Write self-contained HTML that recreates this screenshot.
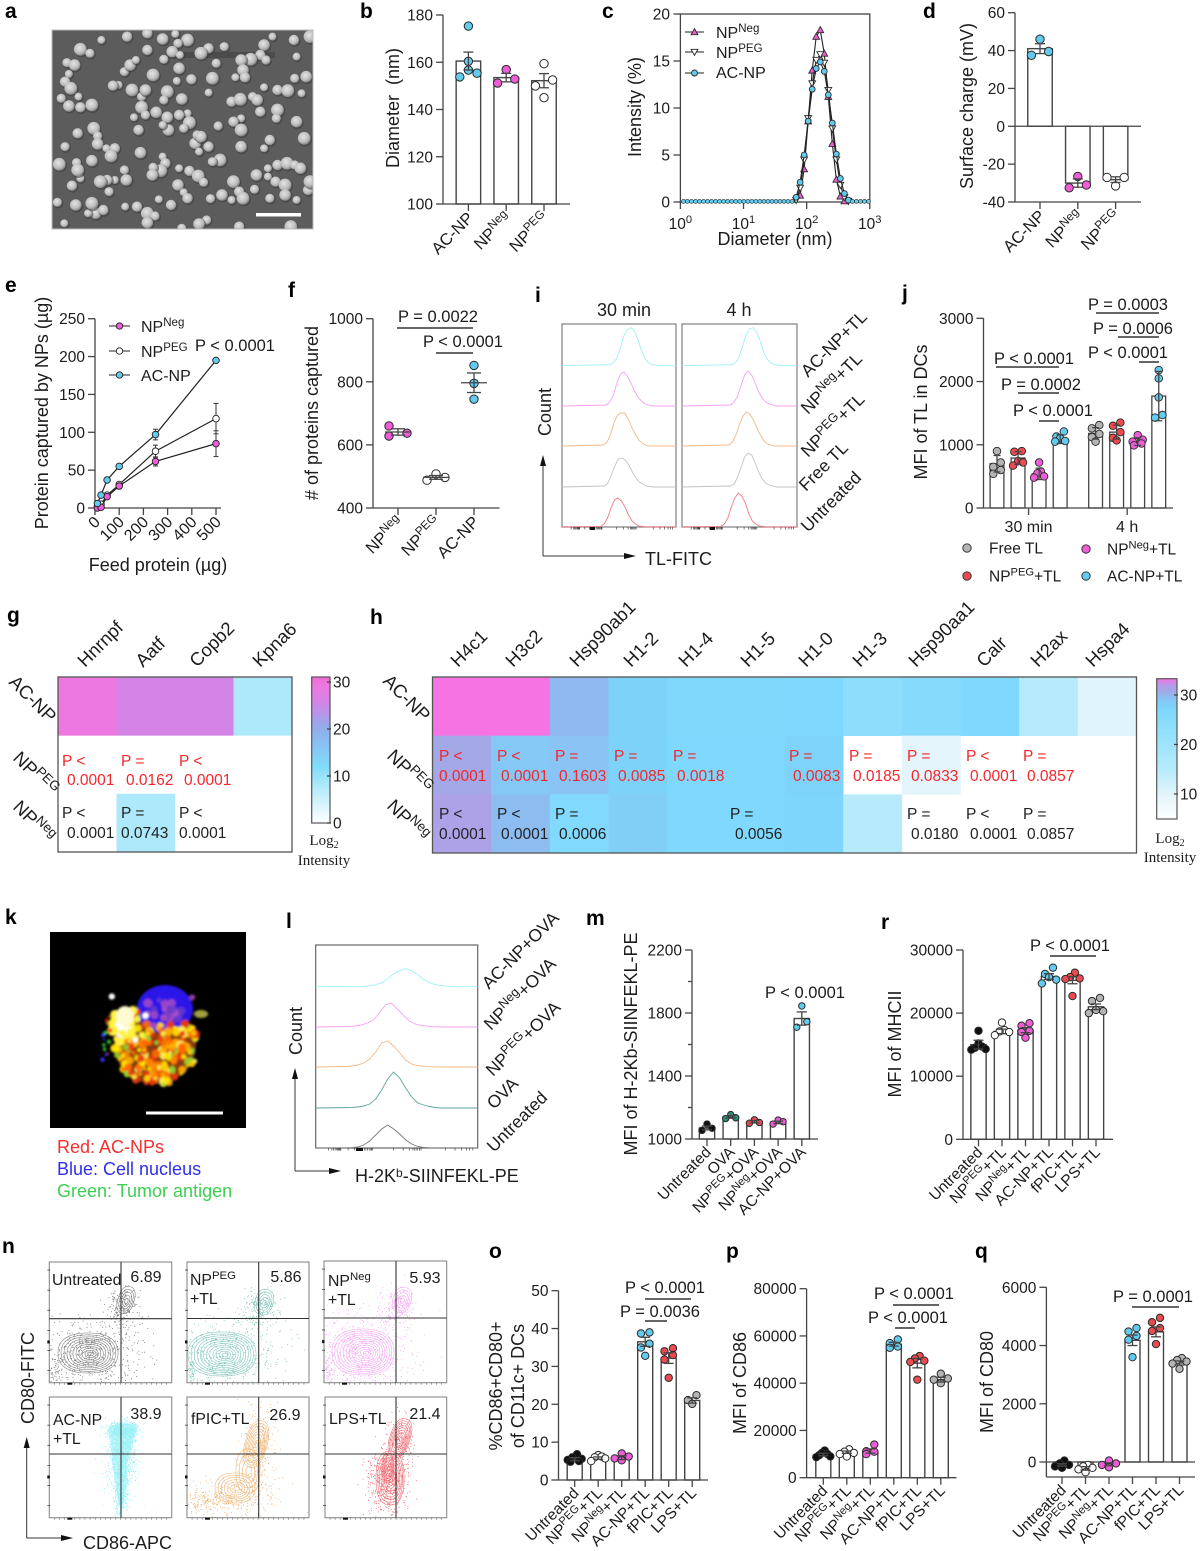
<!DOCTYPE html>
<html lang="en">
<head>
<meta charset="utf-8">
<title>Nanoparticle characterisation figure</title>
<style>
html,body{margin:0;padding:0;background:#fff;}
svg{display:block;}
text{font-family:"Liberation Sans",sans-serif;fill:#1c1c1c;}
.L{font-weight:bold;font-size:21px;fill:#000;}
.T{font-size:18px;}
.P{font-size:16.5px;}
.r{fill:#f5262c;font-size:15.5px;}
.k{fill:#222;font-size:15.5px;}
.s{font-family:"Liberation Serif",serif;font-size:15px;}
.sig{stroke:#333;stroke-width:1.5;}
</style>
</head>
<body>
<svg id="fig" xmlns="http://www.w3.org/2000/svg" width="1200" height="1551" viewBox="0 0 1200 1551">
<rect x="0" y="0" width="1200" height="1551" fill="#fff"/>
<g id="marks"></g>

<g>
<text class="L" x="5" y="18">a</text>
<text class="L" x="360" y="18">b</text>
<text class="L" x="602" y="18">c</text>
<text class="L" x="923" y="18">d</text>
<text class="L" x="5" y="292">e</text>
<text class="L" x="288" y="297">f</text>
<text class="L" x="535" y="302">i</text>
<text class="L" x="902" y="300">j</text>
<text class="L" x="7" y="622">g</text>
<text class="L" x="370" y="624">h</text>
<text class="L" x="5" y="924">k</text>
<text class="L" x="286" y="928">l</text>
<text class="L" x="586" y="925">m</text>
<text class="L" x="881" y="929">r</text>
<text class="L" x="2" y="1253">n</text>
<text class="L" x="489" y="1258">o</text>
<text class="L" x="726" y="1258">p</text>
<text class="L" x="975" y="1258">q</text>
</g>

<g>
<text class="T" transform="translate(399 108) rotate(-90)" text-anchor="middle">Diameter&#160;&#160;(nm)</text>
<text class="T" transform="translate(641 107) rotate(-90)" text-anchor="middle">Intensity (%)</text>
<text class="T" x="775" y="245" text-anchor="middle">Diameter (nm)</text>
<text class="T" transform="translate(973 106) rotate(-90)" text-anchor="middle">Surface charge (mV)</text>
<text class="T" transform="translate(48 413) rotate(-90)" text-anchor="middle">Protein captured by NPs (µg)</text>
<text class="T" x="158" y="571" text-anchor="middle">Feed protein (µg)</text>
<text class="T" transform="translate(318 413) rotate(-90)" text-anchor="middle"># of proteins captured</text>
<text class="T" transform="translate(551 412) rotate(-90)" text-anchor="middle">Count</text>
<text class="T" x="645" y="565">TL-FITC</text>
<text class="T" x="624" y="316" text-anchor="middle">30 min</text>
<text class="T" x="739" y="316" text-anchor="middle">4 h</text>
<text class="T" transform="translate(927 412) rotate(-90)" text-anchor="middle">MFI of TL in DCs</text>
<text class="T" transform="translate(302 1031) rotate(-90)" text-anchor="middle">Count</text>
<text class="T" x="355" y="1182">H-2K<tspan dy="-5" font-size="12">b</tspan><tspan dy="5">-SIINFEKL-PE</tspan></text>
<text class="T" transform="translate(637 1044) rotate(-90)" text-anchor="middle">MFI of H-2Kb-SIINFEKL-PE</text>
<text class="T" transform="translate(901 1044) rotate(-90)" text-anchor="middle">MFI of MHCII</text>
<text class="T" transform="translate(34 1378) rotate(-90)" text-anchor="middle">CD80-FITC</text>
<text class="T" x="83" y="1549">CD86-APC</text>
<text class="T" transform="translate(502 1386) rotate(-90)" text-anchor="middle">%CD86+CD80+</text>
<text class="T" transform="translate(524 1386) rotate(-90)" text-anchor="middle">of CD11c+ DCs</text>
<text class="T" transform="translate(746 1383) rotate(-90)" text-anchor="middle">MFI of CD86</text>
<text class="T" transform="translate(993 1382) rotate(-90)" text-anchor="middle">MFI of CD80</text>
</g>

<g>
<text class="P" x="195" y="351">P &lt; 0.0001</text>
<text class="P" x="398" y="322">P = 0.0022</text>
<line class="sig" x1="397" x2="473" y1="328" y2="328"/>
<text class="P" x="423" y="347">P &lt; 0.0001</text>
<line class="sig" x1="436" x2="473" y1="353" y2="353"/>
<text class="P" x="994" y="364">P &lt; 0.0001</text>
<line class="sig" x1="996" x2="1059" y1="367" y2="367"/>
<text class="P" x="1001" y="390">P = 0.0002</text>
<line class="sig" x1="1018" x2="1059" y1="393" y2="393"/>
<text class="P" x="1013" y="416">P &lt; 0.0001</text>
<line class="sig" x1="1039" x2="1059" y1="421" y2="421"/>
<text class="P" x="1088" y="310">P = 0.0003</text>
<line class="sig" x1="1096" x2="1159" y1="313" y2="313"/>
<text class="P" x="1093" y="334">P = 0.0006</text>
<line class="sig" x1="1118" x2="1159" y1="337" y2="337"/>
<text class="P" x="1088" y="358">P &lt; 0.0001</text>
<line class="sig" x1="1139" x2="1159" y1="362" y2="362"/>
<text class="P" x="765" y="998">P &lt; 0.0001</text>
<text class="P" x="1030" y="951">P &lt; 0.0001</text>
<line class="sig" x1="1050" x2="1096" y1="956" y2="956"/>
<text class="P" x="625" y="1293">P &lt; 0.0001</text>
<line class="sig" x1="645" x2="691" y1="1299" y2="1299"/>
<text class="P" x="620" y="1317">P = 0.0036</text>
<line class="sig" x1="645" x2="667" y1="1321" y2="1321"/>
<text class="P" x="874" y="1299">P &lt; 0.0001</text>
<line class="sig" x1="893" x2="939" y1="1305" y2="1305"/>
<text class="P" x="868" y="1323">P &lt; 0.0001</text>
<line class="sig" x1="895" x2="915" y1="1328" y2="1328"/>
<text class="P" x="1113" y="1302">P = 0.0001</text>
<line class="sig" x1="1132" x2="1179" y1="1307" y2="1307"/>
</g>

<g id="heat-text">
<text class="s" x="324" y="845" text-anchor="middle">Log<tspan dy="3" font-size="10">2</tspan></text>
<text class="s" x="324" y="865" text-anchor="middle">Intensity</text>
<text class="s" x="1170" y="843" text-anchor="middle">Log<tspan dy="3" font-size="10">2</tspan></text>
<text class="s" x="1170" y="862" text-anchor="middle">Intensity</text>

<g>
<text class="r" x="62" y="766">P &lt;</text><text class="r" x="67" y="785">0.0001</text>
<text class="r" x="121" y="766">P =</text><text class="r" x="126" y="785">0.0162</text>
<text class="r" x="179" y="766">P &lt;</text><text class="r" x="184" y="785">0.0001</text>
</g>
<g>
<text class="k" x="62" y="818">P &lt;</text><text class="k" x="67" y="838">0.0001</text>
<text class="k" x="121" y="818">P =</text><text class="k" x="121" y="838">0.0743</text>
<text class="k" x="179" y="818">P &lt;</text><text class="k" x="179" y="838">0.0001</text>
</g>
<g>
<text class="r" x="439" y="761">P &lt;</text><text class="r" x="439" y="781">0.0001</text>
<text class="r" x="497" y="761">P &lt;</text><text class="r" x="501" y="781">0.0001</text>
<text class="r" x="555" y="761">P =</text><text class="r" x="559" y="781">0.1603</text>
<text class="r" x="614" y="761">P =</text><text class="r" x="618" y="781">0.0085</text>
<text class="r" x="673" y="761">P =</text><text class="r" x="677" y="781">0.0018</text>
<text class="r" x="789" y="761">P =</text><text class="r" x="793" y="781">0.0083</text>
<text class="r" x="849" y="761">P =</text><text class="r" x="853" y="781">0.0185</text>
<text class="r" x="907" y="761">P =</text><text class="r" x="911" y="781">0.0833</text>
<text class="r" x="966" y="761">P &lt;</text><text class="r" x="970" y="781">0.0001</text>
<text class="r" x="1023" y="761">P =</text><text class="r" x="1027" y="781">0.0857</text>
</g>
<g>
<text class="k" x="439" y="819">P &lt;</text><text class="k" x="439" y="839">0.0001</text>
<text class="k" x="497" y="819">P &lt;</text><text class="k" x="501" y="839">0.0001</text>
<text class="k" x="555" y="819">P =</text><text class="k" x="559" y="839">0.0006</text>
<text class="k" x="730" y="819">P =</text><text class="k" x="735" y="839">0.0056</text>
<text class="k" x="907" y="819">P =</text><text class="k" x="911" y="839">0.0180</text>
<text class="k" x="966" y="819">P &lt;</text><text class="k" x="970" y="839">0.0001</text>
<text class="k" x="1023" y="819">P =</text><text class="k" x="1027" y="839">0.0857</text>
</g>
</g>

<g>
<text class="T" x="57" y="1153" style="fill:#f5302e">Red: AC-NPs</text>
<text class="T" x="57" y="1175" style="fill:#2e2ef0">Blue: Cell nucleus</text>
<text class="T" x="57" y="1197" style="fill:#3dcf52">Green: Tumor antigen</text>
</g>
</svg>

<script>
/* ---------- panel b ---------- */
const bCats = ['AC-NP','NP^Neg^','NP^PEG^'];
const bMeans = [160.5,153.5,152.2];
const bErrs = [3.8,1.8,3];
const bPoints = [[175.3,160.4,156.7,155.4,153.8],[156.9,152.9,151.2],[159.4,152.5,150,145]];
const bTicks = [100,120,140,160,180];
/* ---------- panel c ---------- */
const cSizes = [1.12,1.29,1.5,1.74,2.01,2.33,2.7,3.12,3.62,4.19,4.85,5.61,6.5,7.53,8.72,10.1,11.7,13.54,15.69,18.17,21.04,24.36,28.21,32.67,37.84,43.82,50.75,58.77,68.06,78.82,91.28,105.7,122.4,141.8,164.2,190.1,220.2,255,295.3,342,396.1,458.7,531.2,615.1,712.4,825,955.4];
const cNeg = [0,0,0,0,0,0,0,0,0,0,0,0,0,0,0,0,0,0,0,0,0,0,0,0,0,0,0,0,0,0.7,3.5,8.6,14,17.6,18.3,15.8,11.2,6.2,2.4,0.6,0.1,0,0,0,0,0,0];
const cPeg = [0,0,0,0,0,0,0,0,0,0,0,0,0,0,0,0,0,0,0,0,0,0,0,0,0,0,0,0,0.2,1.5,4.5,8.9,12.6,15.1,15.7,14.8,11.9,7.8,4.5,1.8,0.5,0.1,0,0,0,0,0];
const cAc = [0,0,0,0,0,0,0,0,0,0,0,0,0,0,0,0,0,0,0,0,0,0,0,0,0,0,0,0,0.5,2.1,5,8.6,12,14.2,14.9,13.9,11.4,8.4,5.1,2.5,0.9,0.2,0,0,0,0,0];
const cYTicks = [0,5,10,15,20];
const cXTicks = [0,1,2,3];
/* ---------- panel d ---------- */
const dCats = ['AC-NP','NP^Neg^','NP^PEG^'];
const dMeans = [41,-30,-28.2];
const dErrs = [2.6,2.2,1.5];
const dPoints = [[46,39.5,37.5],[-26.5,-31,-32.5],[-27,-27,-31.5]];
const dTicks = [-40,-20,0,20,40,60];
/* ---------- panel e ---------- */
const eFeed = [10,25,50,100,250,500];
const eNeg = [0,1,15,29,61.5,85];
const ePeg = [2,5,17,31,75,118];
const eAc = [6,17,37,55,97,195];
const eNegErr = [0,0,2,3,6,17];
const ePegErr = [0,0,2,3,8,20];
const eAcErr = [0,1,2,2,7,0];
const eYTicks = [0,50,100,150,200,250];
const eXTicks = [0,100,200,300,400,500];
/* ---------- panel f ---------- */
const fCats = ['NP^Neg^','NP^PEG^','AC-NP'];
const fMeans = [641,497,797];
const fErrs = [10,6,31];
const fPoints = [[660,637,628],[508,497,488],[852,795,745]];
const fTicks = [400,600,800,1000];
/* ---------- panel g ---------- */
const gCols = ['Hnrnpf','Aatf','Copb2','Kpna6'];
const gRowAc = [29,25.5,25.5,8];
const gRowPeg = [null,null,null,null];
const gRowNeg = [null,8,null,null];
const gTicks = [0,10,20,30];
/* ---------- panel h ---------- */
const hCols = ['H4c1','H3c2','Hsp90ab1','H1-2','H1-4','H1-5','H1-0','H1-3','Hsp90aa1','Calr','H2ax','Hspa4'];
const hRowAc = [33.5,33.5,30,28,26.8,26.8,27,24,25.5,27,15,10.5];
const hRowPeg = [31,29,29.3,28,27,27,27.8,null,10,null,null,null];
const hRowNeg = [31.8,29.8,26.5,28.4,27,27,27.3,15,null,null,null,null];
const hTicks = [10,20,30];
/* ---------- panel i histograms (counts per fluorescence bin) ---------- */
const iCats = ['AC-NP+TL','NP^Neg^+TL','NP^PEG^+TL','Free TL','Untreated'];
const i30Starts = [13.7,12.7,11.9,12.1,11];
const i4hStarts = [14.3,13.9,13.4,13.9,11.1];
const i30Ac = [1,3,8,18,30,36,38,35,26,15,7,3,1,0.5];
const i30Neg = [1,4,11,23,32,34,30,23,15,9,5,2,1];
const i30Peg = [1,4,12,24,31,33,33,27,19,12,6,3,1];
const i30Free = [1,4,12,21,28,29,27,22,15,9,5,3,1,0.5];
const i30Un = [0.5,3,9,19,27,29,26,20,12,6,3,1,0.5];
const i4hAc = [1,3,9,19,31,37,38,34,25,14,7,3,1,0.5];
const i4hNeg = [1,4,10,21,31,35,31,23,14,8,4,2,1];
const i4hPeg = [1,4,11,21,30,34,32,26,18,11,5,2,1];
const i4hFree = [1,3,10,20,30,34,32,24,15,8,4,2,1];
const i4hUn = [0.5,3,9,20,29,34,31,24,13,6,3,1,0.5];
/* ---------- panel j ---------- */
const jGroups = ['30 min','4 h'];
const jLegend = ['Free TL','NP^PEG^+TL','NP^Neg^+TL','AC-NP+TL'];
const jMeans = [700,790,540,1090,1180,1200,1050,1770];
const jErrs = [130,100,90,70,90,110,60,390];
const jPoints = [[900,720,650,600,540],[900,890,740,720,670],[720,580,550,500,480],[1210,1130,1100,1060,1050],[1310,1260,1170,1120,1050],[1350,1300,1200,1110,1070],[1150,1080,1050,1020,990],[2180,2050,1750,1470,1430]];
const jTicks = [0,1000,2000,3000];
/* ---------- panel l histograms ---------- */
const lCats = ['AC-NP+OVA','NP^Neg^+OVA','NP^PEG^+OVA','OVA','Untreated'];
const lStarts = [8,5.6,5,6,5];
const lAc = [0.3,1,2,4,8,13,16,18,16,12,7,4,2,1,0.5];
const lNeg = [0.5,1,2,4,7,14,22,24,18,12,6,3,1.5,0.8,0.3];
const lPeg = [0.5,1,2,4,8,15,24,26,21,14,7,3,1.5,0.7,0.3];
const lOva = [0.5,1,2,4,9,18,29,36,30,20,11,5,3,1.5,0.5];
const lUn = [0,0.3,1,3,7,13,19,23,19,14,8,4,1.5,0.5,0];
/* ---------- panel m ---------- */
const mCats = ['Untreated','OVA','NP^PEG^+OVA','NP^Neg^+OVA','AC-NP+OVA'];
const mMeans = [1070,1140,1110,1105,1765];
const mErrs = [12,8,8,8,42];
const mPoints = [[1095,1068,1055],[1155,1135,1130],[1122,1105,1100],[1120,1110,1095],[1845,1745,1710]];
const mTicks = [1000,1400,1800,2200];
const mMinor = [1200,1600,2000];
/* ---------- panel r ---------- */
const txCats = ['Untreated','NP^PEG^+TL','NP^Neg^+TL','AC-NP+TL','fPIC+TL','LPS+TL'];
const rMeans = [15000,17100,17300,25800,25200,21000];
const rErrs = [700,350,400,450,550,450];
const rPoints = [[17200,15200,14700,14500,14300,14200],[18500,17300,17100,17000,16500],[18400,18000,17200,17000,16100],[27200,26200,25700,25300,24700],[26400,25700,25500,25400,22700],[22400,21900,20500,20300,20000]];
const rTicks = [0,10000,20000,30000];
/* ---------- panel o ---------- */
const oMeans = [5.5,5.8,5.9,36.5,32.2,21];
const oErrs = [0.4,0.3,0.5,1.2,1.4,0.7];
const oPoints = [[6.8,6,5.6,5.3,5,4.8],[6.6,6.2,6,5.7,5],[7,6.2,5.7,5.2],[39,38.7,36,35,32.8],[34.8,34,33,31.8,27],[22.4,21.1,20.1]];
const oTicks = [0,10,20,30,40,50];
/* ---------- panel p ---------- */
const pMeans = [9800,10800,11300,56500,48500,41500];
const pErrs = [500,500,900,800,2000,1000];
const pPoints = [[11500,10500,10000,9500,9000,8700],[12000,11000,10500,10000,9000],[14000,11200,11000,10000],[58500,57000,55500,55000],[51500,50500,49500,49000,41500],[44000,42000,41500,40000]];
const pTicks = [0,20000,40000,60000,80000];
/* ---------- panel q ---------- */
const qMeans = [-100,-220,-80,4180,4470,3400];
const qErrs = [40,60,50,180,170,70];
const qPoints = [[50,-50,-100,-150,-200],[-100,-150,-200,-250,-350],[50,-50,-100,-180],[4600,4480,4330,4200,3600],[4950,4800,4600,4500,4050],[3570,3500,3450,3380,3200]];
const qTicks = [0,2000,4000,6000];
/* ---------- panel n ---------- */
const nGates = ['6.89','5.86','5.93','38.9','26.9','21.4'];

const PK='#ee5cd8', CY='#62cbee', RD='#ea4b50', GY='#b4b4b4', WH='#ffffff', BK='#101010', TE='#2f8b78', AX='#454545';
const NS='http://www.w3.org/2000/svg';
const root=document.getElementById('marks');

function mk(tag,attrs,parent,name){
  const el=document.createElementNS(NS,tag);
  for(const k in attrs) el.setAttribute(k,attrs[k]);
  
  
  parent.appendChild(el);
  return el;
}
function tx(parent,x,y,str,size,name,anchor,rot){
  const a={x:x,y:y,'font-size':size,'text-anchor':anchor||'start'};
  if(rot) a.transform='rotate('+rot+' '+x+' '+y+')';
  const el=mk('text',a,parent,name);
  const parts=String(str).split('^');
  parts.forEach(function(p,i){
    if(!p) return;
    const t=document.createElementNS(NS,'tspan');
    if(i%2===1){ t.setAttribute('dy',-size*0.38); t.setAttribute('font-size',size*0.72); }
    else if(i>0){ t.setAttribute('dy',size*0.38); }
    t.textContent=p;
    el.appendChild(t);
  });
  return el;
}
function ln(p,x1,y1,x2,y2,name,w,c){
  return mk('line',{x1:x1,y1:y1,x2:x2,y2:y2,stroke:c||AX,'stroke-width':w||1.3},p,name);
}
function linear(d0,d1,r0,r1){ return function(v){ return r0+(v-d0)*(r1-r0)/(d1-d0); }; }

function yAxis(g,x,top,bot,y,ticks,prefix,minor){
  ln(g,x,top,x,bot,prefix+'-y-axis-line');
  ticks.forEach(function(t){
    ln(g,x-7,y(t),x,y(t),prefix+'-y-tick');
    tx(g,x-10,y(t)+5.5,t,15.5,prefix+'-y-tick-label','end');
  });
  (minor||[]).forEach(function(t){ ln(g,x-4,y(t),x,y(t),prefix+'-y-minor-tick'); });
}
/* column-scatter layout: values falling in the same pixel band spread symmetrically */
function swarm(vals,y,o){
  const idx=vals.map(function(v,i){return i;}).sort(function(a,b){return vals[b]-vals[a];});
  const out=vals.map(function(){return [0,0];});
  const bins=[];
  idx.forEach(function(i){
    const py=y(vals[i]);
    const last=bins[bins.length-1];
    if(last&&Math.abs(py-last.first)<o.coll) last.items.push(i);
    else bins.push({first:py,items:[i]});
  });
  bins.forEach(function(b){
    const k=b.items.length;
    const odd=k%2===1;
    const half=Math.floor(k/2);
    const unit=(!odd&&o.half)?0.5:1;
    let sep=o.sep;
    const far=odd?half:(half-1+unit);
    if(far*sep>o.maxOff) sep=o.maxOff/far;
    const slots=[];
    if(odd) slots.push(0);
    for(let j=0;j<half;j++){
      const d=(odd?j+1:j+unit)*sep;
      slots.push(d,-d);
    }
    b.items.forEach(function(i,n){ out[i]=[slots[n],y(vals[i])]; });
  });
  return out;
}
function barChart(c,cats,means,errs,points,colors){
  const g=mk('g',{},root,'panel-'+c.id+'-bar-chart');
  const y=linear(c.vMin,c.vMax,c.yBot,c.yTop);
  const base=y(Math.max(c.vMin,0));
  means.forEach(function(m,i){
    const cx=c.first+i*c.step;
    const ym=y(m);
    mk('rect',{x:cx-c.barW/2,y:Math.min(ym,base),width:c.barW,height:Math.abs(base-ym),fill:'#fff',stroke:AX,'stroke-width':1.4},g,c.id+'-bar');
  });
  yAxis(g,c.x0,c.yTop,c.yBot,y,c.ticks,c.id,c.minor);
  ln(g,c.x0,c.yBot,c.x1,c.yBot,c.id+'-x-axis-line');
  if(c.vMin<0) ln(g,c.x0,base,c.x1,base,c.id+'-zero-line');
  means.forEach(function(m,i){
    const cx=c.first+i*c.step;
    ln(g,cx,c.yBot,cx,c.yBot+7,c.id+'-x-tick');
    const pos=swarm(points[i],y,{coll:c.coll||c.r*1.8,sep:c.sep,half:c.half,maxOff:c.barW/2+(c.half?-0.5:1)});
    pos.forEach(function(p){
      mk('circle',{cx:cx+p[0],cy:p[1],r:c.r,fill:colors[i],stroke:'#2a2a2a','stroke-width':1},g,c.id+'-data-point');
    });
    const t=y(m+errs[i]),b=y(m-errs[i]);
    ln(g,cx,t,cx,b,c.id+'-error-bar');
    ln(g,cx-5,t,cx+5,t,c.id+'-error-cap');
    ln(g,cx-5,b,cx+5,b,c.id+'-error-cap');
    tx(g,cx+(c.labDx||6),c.yBot+(c.labDy||15),cats[i],c.labSize||16.5,c.id+'-category-label','end',-45);
  });
}

barChart({id:'b',x0:443,x1:570,yTop:15,yBot:204,vMin:100,vMax:180,ticks:bTicks,first:468.4,step:37.8,barW:24.5,r:4.2,sep:8.6},bCats,bMeans,bErrs,bPoints,[CY,PK,WH]);
barChart({id:'d',x0:1015,x1:1141,yTop:12.7,yBot:202,vMin:-40,vMax:60,ticks:dTicks,first:1040,step:37.8,barW:24.5,r:4.2,sep:8.6},dCats,dMeans,dErrs,dPoints,[CY,PK,WH]);
barChart({id:'m',x0:692,x1:818,yTop:950,yBot:1139,vMin:1000,vMax:2200,ticks:mTicks,minor:mMinor,first:707,step:23.7,barW:15.3,r:3.2,coll:6.4,sep:5,labSize:15.5,labDx:5,labDy:14},mCats,mMeans,mErrs,mPoints,[BK,TE,RD,PK,CY]);
barChart({id:'r',x0:963,x1:1113,yTop:950,yBot:1139.3,vMin:0,vMax:30000,ticks:rTicks,first:978.5,step:23.5,barW:15.3,r:3.7,sep:8,half:true,labSize:15.5,labDx:5,labDy:14},txCats,rMeans,rErrs,rPoints,[BK,WH,PK,CY,RD,GY]);
barChart({id:'o',x0:558.5,x1:708,yTop:1290.7,yBot:1480,vMin:0,vMax:50,ticks:oTicks,first:574.7,step:23.5,barW:15,r:3.7,sep:8.5,half:true,labSize:15.5,labDx:5,labDy:14},txCats,oMeans,oErrs,oPoints,[BK,WH,PK,CY,RD,GY]);
barChart({id:'p',x0:806.6,x1:956.5,yTop:1288.7,yBot:1477.7,vMin:0,vMax:80000,ticks:pTicks,first:823.3,step:23.5,barW:15,r:3.7,sep:8,half:true,labSize:15.5,labDx:5,labDy:14},txCats,pMeans,pErrs,pPoints,[BK,WH,PK,CY,RD,GY]);
barChart({id:'q',x0:1046.4,x1:1195,yTop:1287.3,yBot:1477,vMin:-515,vMax:6000,ticks:qTicks,first:1062,step:23.5,barW:15,r:3.7,sep:8,half:true,labSize:15.5,labDx:5,labDy:14},txCats,qMeans,qErrs,qPoints,[BK,WH,PK,CY,RD,GY]);

/* panel j: grouped bars */
(function(){
  const g=mk('g',{},root,'panel-j-bar-chart');
  const y=linear(0,3000,508,318.3);
  const colors=[GY,RD,PK,CY,GY,RD,PK,CY];
  const cx=function(i){ return 997+(i>3?98.6:0)+(i>3?i-4:i)*21.05; };
  jMeans.forEach(function(m,i){
    mk('rect',{x:cx(i)-6.9,y:y(m),width:13.8,height:508-y(m),fill:'#fff',stroke:AX,'stroke-width':1.3},g,'j-bar');
  });
  yAxis(g,983.5,318.3,508,y,jTicks,'j');
  ln(g,983.5,508,1173,508,'j-x-axis-line');
  jGroups.forEach(function(t,i){
    const x=(cx(i*4)+cx(i*4+3))/2;
    ln(g,x,508,x,515,'j-x-tick');
    tx(g,x,532,t,16,'j-group-label','middle');
  });
  jMeans.forEach(function(m,i){
    swarm(jPoints[i],y,{coll:6.5,sep:7.4,half:true,maxOff:5}).forEach(function(p){
      mk('circle',{cx:cx(i)+p[0],cy:p[1],r:3.8,fill:colors[i],stroke:'#2a2a2a','stroke-width':0.9},g,'j-data-point');
    });
    const t=y(m+jErrs[i]),b=y(m-jErrs[i]);
    ln(g,cx(i),t,cx(i),b,'j-error-bar');
    ln(g,cx(i)-3.5,t,cx(i)+3.5,t,'j-error-cap');
    ln(g,cx(i)-3.5,b,cx(i)+3.5,b,'j-error-cap');
  });
  const lc=[GY,RD,PK,CY];
  const lx=[967,967,1086,1086], ly=[548,576,549,576], tlx=[989,989,1107,1107];
  jLegend.forEach(function(t,i){
    const e=mk('g',{},g,'j-legend-entry');
    mk('circle',{cx:lx[i],cy:ly[i],r:4.2,fill:lc[i],stroke:'#2a2a2a','stroke-width':0.9},e,'j-legend-swatch');
    tx(e,tlx[i],ly[i]+5.5,t,15.5,'j-legend-label');
  });
})();

/* panel c */
(function(){
  const g=mk('g',{},root,'panel-c-line-chart');
  const y=linear(0,20,202,14);
  const x=function(d){ return 680.4+Math.log10(d)*63.13; };
  mk('rect',{x:680.4,y:14,width:189.4,height:188,fill:'none',stroke:AX,'stroke-width':1.3},g,'c-plot-frame');
  cYTicks.forEach(function(t){
    ln(g,673.5,y(t),680.4,y(t),'c-y-tick');
    tx(g,670,y(t)+5.5,t,15.5,'c-y-tick-label','end');
  });
  cXTicks.forEach(function(t){
    const px=680.4+t*63.13;
    ln(g,px,202,px,209,'c-x-tick');
    tx(g,px,229,'10^'+t+'^',15.5,'c-x-tick-label','middle');
  });
  function tri(px,py,up,fill,name,parent,s){
    const pts=up?[[px,py-s],[px-s,py+s*0.8],[px+s,py+s*0.8]]:[[px,py+s],[px-s,py-s*0.8],[px+s,py-s*0.8]];
    mk('polygon',{points:pts.map(function(q){return q.join(',');}).join(' '),fill:fill,stroke:'#2a2a2a','stroke-width':0.9},parent,name);
  }
  function line(vals,name){
    mk('polyline',{points:vals.map(function(v,i){return x(cSizes[i])+','+y(v);}).join(' '),fill:'none',stroke:'#222','stroke-width':1.1},g,name);
  }
  line(cNeg,'c-line-np-neg');
  cNeg.forEach(function(v,i){ if(v>0) tri(x(cSizes[i]),y(v),true,PK,'c-point-np-neg',g,3.4); });
  line(cPeg,'c-line-np-peg');
  cPeg.forEach(function(v,i){ if(v>0) tri(x(cSizes[i]),y(v),false,WH,'c-point-np-peg',g,3.4); });
  line(cAc,'c-line-ac-np');
  cAc.forEach(function(v,i){
    const r=v>0?2.9:2;
    mk('circle',{cx:x(cSizes[i]),cy:v>0?y(v):y(v)-0.6,r:r,fill:CY,stroke:'#2a2a2a','stroke-width':v>0?0.9:0.6},g,'c-point-ac-np');
  });
  const e1=mk('g',{},g,'c-legend-np-neg');
  ln(e1,685,32,704,32,'c-legend-line',1.1,'#222');
  tri(694.5,32,true,PK,'c-legend-marker',e1,3.4);
  tx(e1,716,38,'NP^Neg^',16,'c-legend-label');
  const e2=mk('g',{},g,'c-legend-np-peg');
  ln(e2,685,52,704,52,'c-legend-line',1.1,'#222');
  tri(694.5,52,false,WH,'c-legend-marker',e2,3.4);
  tx(e2,716,58,'NP^PEG^',16,'c-legend-label');
  const e3=mk('g',{},g,'c-legend-ac-np');
  ln(e3,685,73,704,73,'c-legend-line',1.1,'#222');
  mk('circle',{cx:694.5,cy:73,r:3,fill:CY,stroke:'#2a2a2a','stroke-width':0.9},e3,'c-legend-marker');
  tx(e3,716,78,'AC-NP',16,'c-legend-label');
})();

/* panel e */
(function(){
  const g=mk('g',{},root,'panel-e-line-chart');
  const y=linear(0,250,508,318.7);
  const x=linear(0,500,95,216);
  yAxis(g,95,318.7,508,y,eYTicks,'e');
  ln(g,95,508,221,508,'e-x-axis-line');
  eXTicks.forEach(function(t){
    ln(g,x(t),508,x(t),515,'e-x-tick');
    tx(g,x(t)+6,523,t,16,'e-x-tick-label','end',-45);
  });
  function series(vals,errs,color,name){
    const s=mk('g',{},g,'e-series-'+name);
    mk('polyline',{points:vals.map(function(v,i){return x(eFeed[i])+','+y(v);}).join(' '),fill:'none',stroke:'#222','stroke-width':1.2},s,'e-line-'+name);
    vals.forEach(function(v,i){
      if(errs[i]>0){
        ln(s,x(eFeed[i]),y(v-errs[i]),x(eFeed[i]),y(v+errs[i]),'e-error-bar',1.1);
        ln(s,x(eFeed[i])-2.5,y(v+errs[i]),x(eFeed[i])+2.5,y(v+errs[i]),'e-error-cap',1.1);
        ln(s,x(eFeed[i])-2.5,y(v-errs[i]),x(eFeed[i])+2.5,y(v-errs[i]),'e-error-cap',1.1);
      }
      mk('circle',{cx:x(eFeed[i]),cy:y(v),r:3.3,fill:color,stroke:'#222','stroke-width':0.9},s,'e-point-'+name);
    });
  }
  series(ePeg,ePegErr,WH,'np-peg');
  series(eNeg,eNegErr,PK,'np-neg');
  series(eAc,eAcErr,CY,'ac-np');
  const names=['NP^Neg^','NP^PEG^','AC-NP'], cols=[PK,WH,CY], ly=[326,351,375];
  names.forEach(function(n,i){
    const e=mk('g',{},g,'e-legend-entry');
    ln(e,109,ly[i],130,ly[i],'e-legend-line',1.1,'#222');
    mk('circle',{cx:119.5,cy:ly[i],r:3.2,fill:cols[i],stroke:'#222','stroke-width':0.9},e,'e-legend-marker');
    tx(e,141,ly[i]+6,n,16,'e-legend-label');
  });
})();

/* panel f */
(function(){
  const g=mk('g',{},root,'panel-f-dot-chart');
  const y=linear(400,1000,508,318.7);
  yAxis(g,373,318.7,508,y,fTicks,'f');
  ln(g,373,508,499.5,508,'f-x-axis-line');
  const cols=[PK,WH,CY];
  const dodge=[[-9,9,-9],[0,9,-9],[0,0,0]];
  fCats.forEach(function(n,i){
    const cx=398+i*38;
    ln(g,cx,508,cx,515,'f-x-tick');
    fPoints[i].forEach(function(v,k){
      mk('circle',{cx:cx+dodge[i][k],cy:y(v),r:4.2,fill:cols[i],stroke:'#2a2a2a','stroke-width':1},g,'f-data-point');
    });
    const m=y(fMeans[i]),t=y(fMeans[i]+fErrs[i]),b=y(fMeans[i]-fErrs[i]);
    ln(g,cx-13,m,cx+13,m,'f-mean-line');
    ln(g,cx,t,cx,b,'f-error-bar');
    ln(g,cx-7,t,cx+7,t,'f-error-cap');
    ln(g,cx-7,b,cx+7,b,'f-error-cap');
    tx(g,cx+6,523,n,16.5,'f-category-label','end',-45);
  });
})();

/* heatmap helpers */
function hex(c){ return [parseInt(c.slice(1,3),16),parseInt(c.slice(3,5),16),parseInt(c.slice(5,7),16)]; }
function cmap(stops,v){
  if(v<=stops[0][0]) return stops[0][1];
  for(let i=1;i<stops.length;i++){
    if(v<=stops[i][0]){
      const t=(v-stops[i-1][0])/(stops[i][0]-stops[i-1][0]);
      const a=hex(stops[i-1][1]),b=hex(stops[i][1]);
      return 'rgb('+a.map(function(q,k){return Math.round(q+(b[k]-q)*t);}).join(',')+')';
    }
  }
  return stops[stops.length-1][1];
}
const gStops=[[0,'#ffffff'],[8,'#aee9fb'],[12,'#7fdcfb'],[20,'#90aeec'],[25.5,'#d384e6'],[29,'#ec78e0'],[31,'#ee6cd8']];
const hStops=[[5,'#ffffff'],[10,'#e3f5fb'],[15,'#b7ebfb'],[24,'#8cdefc'],[27,'#7fd8fd'],[28,'#7dd2f9'],[29,'#86c8f5'],[30,'#8fb9f0'],[31,'#a3a8e6'],[32,'#b0a0e8'],[33.5,'#f573e3']];
function heat(id,rows,cols,x0,y0,w,h,stops,cb,ticks,rowAnch,colAnch){
  const g=mk('g',{},root,'panel-'+id+'-heatmap');
  const cw=w/cols.length,ch=h/rows.length;
  rows.forEach(function(row,r){
    row.forEach(function(v,c){
      if(v===null) return;
      mk('rect',{x:x0+c*cw,y:y0+r*ch,width:cw+0.3,height:ch+0.3,fill:cmap(stops,v)},g,id+'-heat-cell');
    });
  });
  mk('rect',{x:x0,y:y0,width:w,height:h,fill:'none',stroke:'#555','stroke-width':1.3},g,id+'-heatmap-frame');
  cols.forEach(function(n,i){
    tx(g,colAnch[i],668,n,18.5,id+'-column-label','start',-45);
  });
  const rowNames=['AC-NP','NP^PEG^','NP^Neg^'];
  rowNames.forEach(function(n,i){
    tx(g,rowAnch[i][0],rowAnch[i][1],n,18.5,id+'-row-label','start',45);
  });
  const defs=mk('defs',{},g,id+'-defs');
  const gid=id+'-grad';
  const lg=mk('linearGradient',{id:gid,x1:0,y1:1,x2:0,y2:0},defs,id+'-colorbar-gradient');
  const lo=cb.vMin,hi=cb.vMax;
  stops.forEach(function(s){
    mk('stop',{offset:Math.max(0,(s[0]-lo)/(hi-lo)),'stop-color':s[1]},lg,id+'-gradient-stop');
  });
  mk('rect',{x:cb.x,y:cb.top,width:cb.w,height:cb.bot-cb.top,fill:'url(#'+gid+')',stroke:'#555','stroke-width':1.2},g,id+'-colorbar');
  const y=linear(cb.t0v,cb.t1v,cb.t0y,cb.t1y);
  ticks.forEach(function(t){
    ln(g,cb.x+cb.w-3,y(t),cb.x+cb.w+1,y(t),id+'-colorbar-tick');
    tx(g,cb.x+cb.w+3,y(t)+5.5,t,15.5,id+'-colorbar-label');
  });
}
heat('g',[gRowAc,gRowPeg,gRowNeg],gCols,58,677,234,175,gStops,{x:311.7,w:18.3,top:677,bot:823,vMin:0,vMax:31,t0v:0,t1v:30,t0y:823,t1y:682},gTicks,[[8,683],[12,759],[12,808]],[85,143,197,260]);
heat('h',[hRowAc,hRowPeg,hRowNeg],hCols,432.5,677,704,176,hStops,{x:1156.7,w:20.3,top:678.7,bot:819,vMin:5,vMax:33.5,t0v:10,t1v:30,t0y:794,t1y:695},hTicks,[[382,682],[386,757],[386,807]],[458,513,577,631,686,748,806,860,916,984,1038,1093]);

/* histograms */
function hist(g,left,right,base,start,binW,vals,color,name){
  const pts=[[left,base]];
  vals.forEach(function(v,i){ pts.push([left+(start+i)*binW,base-v]); });
  pts.push([left+(start+vals.length)*binW,base]);
  pts.push([right,base]);
  mk('polyline',{points:pts.map(function(p){return p.join(',');}).join(' '),fill:'none',stroke:color,'stroke-width':0.9},g,name);
}
function minorTicks(g,left,right,y,prefix){
  const steps=[0.08,0.1,0.11,0.12,0.13,0.135,0.14,0.145,0.15,0.155,0.2,0.24,0.26,0.28,0.3,0.31,0.32,0.33,0.34,0.345,0.35,0.48,0.54,0.58,0.6,0.61,0.62,0.63,0.64,0.65,0.8,0.86,0.9,0.93,0.95,0.97];
  steps.forEach(function(s){ ln(g,left+(right-left)*s,y,left+(right-left)*s,y+2.5,prefix+'-minor-tick',0.7,'#444'); });
}
function arrow(g,x,yt,yb,xr,prefix){
  ln(g,x,yt+8,x,yb,prefix+'-y-arrow-line',1,'#333');
  ln(g,x,yb,xr-10,yb,prefix+'-x-arrow-line',1,'#333');
  mk('polygon',{points:(x-3)+','+(yt+11)+' '+x+','+yt+' '+(x+3)+','+(yt+11),fill:'#111'},g,prefix+'-y-arrowhead');
  mk('polygon',{points:(xr-12)+','+(yb-3)+' '+xr+','+yb+' '+(xr-12)+','+(yb+3),fill:'#111'},g,prefix+'-x-arrowhead');
}
(function(){
  const g=mk('g',{},root,'panel-i-histograms');
  const cols=['#9df1f6','#f6a0f3','#f5b884','#c2c2c2','#f27a7e'];
  const baseY=[365.7,406,446,487,527];
  const t30=[i30Ac,i30Neg,i30Peg,i30Free,i30Un], t4=[i4hAc,i4hNeg,i4hPeg,i4hFree,i4hUn];
  mk('rect',{x:562,y:324,width:114,height:203,fill:'#fff',stroke:'#888','stroke-width':1.3},g,'i-frame-30-min');
  mk('rect',{x:682,y:324,width:115,height:203,fill:'#fff',stroke:'#888','stroke-width':1.3},g,'i-frame-4-h');
  baseY.forEach(function(b,i){
    hist(g,562,676,b,i30Starts[i],3.5,t30[i],cols[i],'i-trace-30-min');
    hist(g,682,797,b,i4hStarts[i],3.5,t4[i],cols[i],'i-trace-4-h');
  });
  minorTicks(g,562,676,527,'i');
  minorTicks(g,682,797,527,'i');
  mk('rect',{x:590,y:527,width:5,height:3,fill:'#111'},g,'i-axis-mark');
  mk('rect',{x:710,y:527,width:5,height:3,fill:'#111'},g,'i-axis-mark');
  arrow(g,543,455,556,636,'i');
  const ax=[808,808,808,806,808], ay=[378,415,458,492,533];
  iCats.forEach(function(n,i){ tx(g,ax[i],ay[i],n,17.5,'i-trace-label','start',-45); });
})();
(function(){
  const g=mk('g',{},root,'panel-l-histograms');
  const cols=['#9df1f6','#f6a0f3','#f5b884','#5da59b','#777777'];
  const baseY=[986.7,1027,1067,1108,1148];
  const traces=[lAc,lNeg,lPeg,lOva,lUn];
  mk('rect',{x:315.7,y:945,width:162,height:203,fill:'#fff',stroke:'#666','stroke-width':1.2},g,'l-frame');
  baseY.forEach(function(b,i){ hist(g,315.7,477.7,b,lStarts[i],6,traces[i],cols[i],'l-trace'); });
  minorTicks(g,315.7,477.7,1148,'l');
  mk('rect',{x:356,y:1148,width:7,height:3,fill:'#111'},g,'l-axis-mark');
  arrow(g,295,1068,1171,341,'l');
  const ax=[489,491,493,494,494], ay=[990,1031,1077,1110,1153];
  lCats.forEach(function(n,i){ tx(g,ax[i],ay[i],n,17.5,'l-trace-label','start',-45); });
})();

/* deterministic pseudo-random for image-like textures only */
function rng(seed){ let s=seed; return function(){ s=(s*1664525+1013904223)%4294967296; return s/4294967296; }; }
function gauss(r){ return (r()+r()+r()+r()-2)*1.0; }

/* panel a micrograph */
(function(){
  const g=mk('g',{},root,'panel-a-sem-image');
  const defs=mk('defs',{},g,'a-defs');
  const rg=mk('radialGradient',{id:'sph',cx:'42%',cy:'38%',r:'65%'},defs,'a-sphere-gradient');
  mk('stop',{offset:'0','stop-color':'#e4e4e4'},rg,'a-stop-light');
  mk('stop',{offset:'0.65','stop-color':'#bcbcbc'},rg,'a-stop-mid');
  mk('stop',{offset:'1','stop-color':'#7a7a7a'},rg,'a-stop-dark');
  const cp=mk('clipPath',{id:'semclip'},defs,'a-clip');
  mk('rect',{x:52,y:30,width:261,height:199},cp,'a-clip-rect');
  mk('rect',{x:52,y:30,width:261,height:199,fill:'#5c5c5c'},g,'a-background');
  const layer=mk('g',{'clip-path':'url(#semclip)'},g,'a-particles');
  mk('rect',{x:170,y:52,width:105,height:6,fill:'#404040',opacity:0.6},layer,'a-crack');
  const spots=[[265,120],[332,110],[210,148],[235,160],[425,117],[458,102],[385,100],[490,120],[465,130],[450,155],[470,165],[545,145],[525,160],[586,140],[690,135],[712,110],[680,165],[655,178],[695,180],[630,180],[775,170],[768,120],[810,110],[175,188],[195,195],[180,222],[170,245],[185,265],[160,295],[180,318],[205,290],[210,322],[240,315],[325,215],[340,195],[355,180],[385,150],[400,225],[428,178],[468,205],[462,243],[500,238],[555,235],[565,190],[635,210],[615,232],[640,232],[345,270],[370,290],[380,270],[310,255],[295,257],[370,322],[380,345],[408,337],[350,352],[362,390],[437,275],[428,300],[475,297],[545,278],[605,305],[628,298],[660,290],[672,300],[690,262],[725,270],[752,272],[770,235],[800,230],[788,280],[680,335],[725,330],[722,355],[775,365],[630,355],[610,365],[630,390],[570,378],[437,352],[490,340],[468,345],[495,368],[480,385],[440,390],[425,375],[203,400],[245,385],[255,408],[255,432],[278,445],[300,445],[290,468],[170,440],[367,458],[425,470],[432,490],[420,512],[400,502],[398,525],[468,505],[495,513],[518,528],[532,547],[465,555],[480,577],[490,595],[155,493],[200,488],[240,482],[210,535],[188,557],[203,510],[325,510],[330,540],[300,540],[280,540],[262,545],[285,575],[250,640],[230,640],[270,630],[240,610],[150,607],[198,615],[327,620],[358,620],[385,640],[405,648],[385,668],[415,598],[447,615],[610,545],[550,596],[580,585],[605,600],[625,575],[635,595],[665,568],[670,525],[700,505],[725,495],[750,490],[770,495],[785,505],[700,530],[720,545],[745,555],[705,595],[745,585],[775,600],[805,570],[810,545],[540,660],[520,672],[168,670],[625,680],[760,680],[475,685],[510,430],[520,455],[545,440],[575,480],[555,485],[630,440],[690,445],[705,420],[795,415],[515,405],[525,410]];
  spots.forEach(function(s,i){
    const r=4+((i*7)%5)*0.6;
    mk('circle',{cx:s[0]/2.613+0.8,cy:s[1]/3+1,r:r+0.6,fill:'#3a3a3a',opacity:0.55},layer,'a-particle-shadow');
    mk('circle',{cx:s[0]/2.613,cy:s[1]/3,r:r,fill:'url(#sph)'},layer,'a-particle');
  });
  mk('rect',{x:256,y:213,width:45,height:3.5,fill:'#fff'},g,'a-scale-bar');
  mk('rect',{x:52,y:30,width:261,height:199,fill:'none',stroke:'#bbb','stroke-width':1},g,'a-image-frame');
})();

/* panel k confocal */
(function(){
  const g=mk('g',{},root,'panel-k-confocal-image');
  mk('rect',{x:50,y:932,width:196,height:196,fill:'#000'},g,'k-background');
  const defs=mk('defs',{},g,'k-defs');
  const blur=mk('filter',{id:'kblur',x:'-10%',y:'-10%',width:'120%',height:'120%'},defs,'k-blur-filter');
  mk('feGaussianBlur',{stdDeviation:1.1},blur,'k-blur');
  const cell=mk('g',{filter:'url(#kblur)'},g,'k-cell');
  const r=rng(77);
  mk('ellipse',{cx:155,cy:1044,rx:41,ry:40,fill:'#8a3a10'},cell,'k-cell-body');
  mk('ellipse',{cx:165,cy:1009,rx:28,ry:24,fill:'#2a14e8'},cell,'k-nucleus');
  for(let i=0;i<30;i++){
    mk('circle',{cx:163+gauss(r)*22,cy:1015+gauss(r)*14,r:2+r()*2.5,fill:r()<0.5?'#6a3cc8':'#b050c0',opacity:0.8},cell,'k-nucleus-speck');
  }
  const pal=['#ffe800','#ffd000','#ffb000','#ff8a00','#ff6a00','#e83a10','#8fd030','#fff25a'];
  for(let i=0;i<260;i++){
    const a=r()*Math.PI*2, d=Math.sqrt(r())*42;
    const cx=156+Math.cos(a)*d, cy=1046+Math.sin(a)*d*0.92;
    if(cy<1024 && cx>140) continue;
    mk('circle',{cx:cx,cy:cy,r:1.6+r()*2.8,fill:pal[Math.floor(r()*pal.length)],opacity:0.92},cell,'k-signal-blob');
  }
  for(let i=0;i<40;i++){
    mk('circle',{cx:124+gauss(r)*14,cy:1022+gauss(r)*18,r:2+r()*3.5,fill:i%4===0?'#ffffff':'#fff23c'},cell,'k-bright-blob');
  }
  mk('ellipse',{cx:125,cy:1016,rx:9,ry:10,fill:'#fffbd0'},cell,'k-bright-spot');
  for(let i=0;i<14;i++){
    mk('circle',{cx:102+r()*8,cy:1015+r()*45,r:1+r()*1.4,fill:['#30c030','#f03010','#3030f0'][i%3]},cell,'k-edge-speck');
  }
  mk('ellipse',{cx:201,cy:1014,rx:7,ry:4,fill:'#a0a040'},cell,'k-edge-speck');
  mk('rect',{x:146,y:1111.5,width:77,height:3,fill:'#fff'},g,'k-scale-bar');
})();

/* panel n flow plots */
(function(){
  const g=mk('g',{},root,'panel-n-flow-plots');
  const r=rng(4242);
  function contour(p,cx,cy,rx,ry,rot,n,color,name){
    const ex=2/2.4;
    for(let k=n;k>=1;k--){
      const t=k/n;
      const pts=[];
      for(let a=0;a<72;a++){
        const th=(a+0.5)/72*Math.PI*2;
        const c=Math.cos(th),s=Math.sin(th);
        pts.push((cx+(1-t)*rx*0.1+rx*t*Math.sign(c)*Math.pow(Math.abs(c),ex)).toFixed(1)+','+(cy+(1-t)*ry*0.06+ry*t*Math.sign(s)*Math.pow(Math.abs(s),ex)).toFixed(1));
      }
      mk('polygon',{points:pts.join(' '),fill:'none',stroke:color,'stroke-width':0.55,transform:'rotate('+rot+' '+cx+' '+cy+')'},p,name);
    }
  }
  function plot(name,x,y,w,h,vx,hy,color,contours,scatters,label1,label2,gate,fills){
    const p=mk('g',{},g,'n-plot-'+name);
    mk('rect',{x:x,y:y,width:w,height:h,fill:'#fff',stroke:'#8a8a8a','stroke-width':1.1},p,'n-plot-frame');
    (fills||[]).forEach(function(d){ mk('path',{d:d,fill:color,opacity:0.55},p,'n-density-region'); });
    scatters.forEach(function(s){
      for(let i=0;i<s[4];i++){
        const px=s[0]+gauss(r)*s[2], py=s[1]+gauss(r)*s[3];
        if(px<x+1||px>x+w-1||py<y+1||py>y+h-1) continue;
        mk('rect',{x:px,y:py,width:0.9,height:0.9,fill:color},p,'n-event-dot');
      }
    });
    contours.forEach(function(c){ contour(p,c[0],c[1],c[2],c[3],c[4],c[5],color,'n-contour'); });
    ln(p,vx,y,vx,y+h,'n-gate-vertical',1.1,'#333');
    ln(p,x,hy,x+w,hy,'n-gate-horizontal',1.1,'#333');
    for(let i=0;i<6;i++) ln(p,x-2,y+h*(i+0.4)/6,x+1,y+h*(i+0.4)/6,'n-y-tick',0.8,'#444');
    for(let i=1;i<24;i++) ln(p,x+w*i/24,y+h,x+w*i/24,y+h+2,'n-x-tick',0.6,'#666');
    mk('rect',{x:x-2,y:y+h*0.65,width:2.5,height:3,fill:'#111'},p,'n-axis-mark');
    mk('rect',{x:x+18,y:y+h,width:5,height:2,fill:'#111'},p,'n-axis-mark');
    if(label1) tx(p,label1[1],label1[2],label1[0],15.8,'n-group-label');
    if(label2) tx(p,label2[1],label2[2],label2[0],15.8,'n-group-label');
    tx(p,gate[0],gate[1],nGates[gate[2]],16,'n-gate-percent','middle');
  }
  plot('untreated',49.3,1262,122.4,120.7,121,1318.7,'#7a7a7a',[[88,1353,30,20,0,11],[126,1300,8,14,18,5]],[[90,1352,42,28,500],[122,1308,16,18,180],[53,1372,6,14,60]],['Untreated',52,1285],null,[146,1282,0]);
  plot('np-peg',187,1262,122,120.7,258.7,1318.5,'#7cc4b8',[[222,1354,34,22,0,12],[264,1302,9,13,18,5]],[[222,1355,50,32,500],[258,1306,16,18,180],[190,1372,4,12,60]],['NP^PEG^',190,1285],['+TL',190,1304],[286,1282,1]);
  plot('np-neg',324,1261,122.7,121.7,396,1318,'#f3a6f4',[[363,1352,31,23,0,12],[402,1300,9,13,18,5]],[[362,1353,46,34,600],[398,1306,16,18,180],[327,1372,4,12,60]],['NP^Neg^',328,1286],['+TL',328,1305],[425,1283,2]);
  plot('ac-np',49.3,1397,122.4,120.7,121,1454,'#96f0f5',[[125,1440,8,16,5,4]],[[121,1490,6,24,400],[122,1455,12,28,700],[122,1430,14,7,500],[118,1470,18,30,120]],['AC-NP',53,1425],['+TL',53,1444],[146,1419,3],['M121 1516 L115 1480 L108 1428 L120 1423 L137 1424 L128 1460 L124 1500 Z']);
  plot('fpic',187,1397,122,120.7,258.7,1454,'#eeb26f',[[235,1488,20,15,0,7],[256,1444,11,24,15,9],[248,1471,12,22,0,4]],[[232,1497,40,18,260],[258,1450,16,38,220],[205,1500,22,9,120]],['fPIC+TL',191,1424],null,[285,1420,4]);
  plot('lps',325,1397,121.7,120.7,396,1454,'#ee6a72',[[390,1478,14,27,0,9],[400,1438,10,20,18,9],[388,1468,6,15,0,6]],[[388,1482,18,30,500],[400,1440,12,22,150]],['LPS+TL',329,1424],null,[425,1419,5]);
  arrow(g,26.7,1437,1538,73,'n');
})();
</script>
</body>
</html>
